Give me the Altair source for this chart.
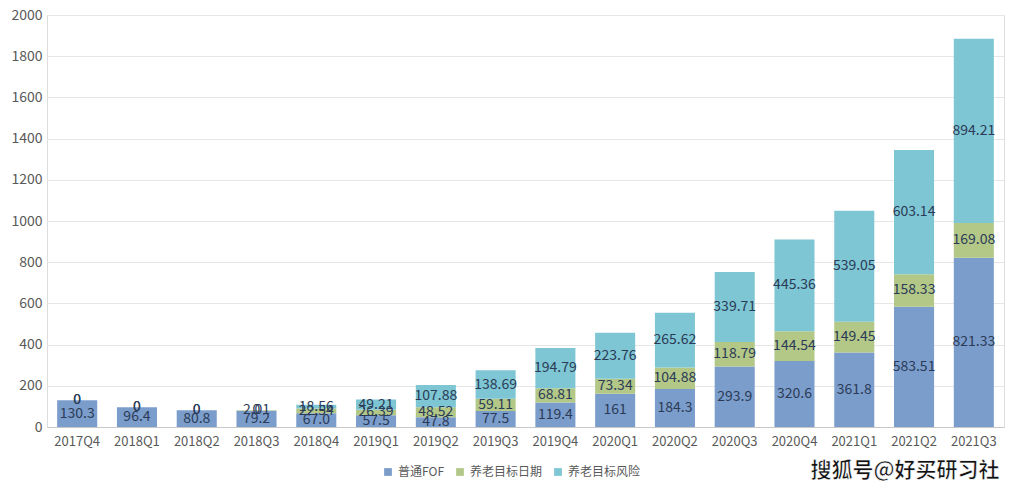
import altair as alt
import pandas as pd

quarters = ["2017Q4", "2018Q1", "2018Q2", "2018Q3", "2018Q4", "2019Q1", "2019Q2", "2019Q3",
            "2019Q4", "2020Q1", "2020Q2", "2020Q3", "2020Q4", "2021Q1", "2021Q2", "2021Q3"]
series_names = ["普通FOF", "养老目标日期", "养老目标风险"]
ordinary_fof = [130.3, 96.4, 80.8, 79.2, 67.0, 57.5, 47.8, 77.5, 119.4, 161, 184.3, 293.9,
                320.6, 361.8, 583.51, 821.33]
target_date = [0, 0, 0, 2.01, 22.54, 26.39, 48.52, 59.11, 68.81, 73.34, 104.88, 118.79,
               144.54, 149.45, 158.33, 169.08]
target_risk = [0, 0, 0, 0, 18.56, 49.21, 107.88, 138.69, 194.79, 223.76, 265.62, 339.71,
               445.36, 539.05, 603.14, 894.21]
colors = ["#7b9dcb", "#b3c887", "#7ec6d3"]

rows = []
for idx, (name, vals) in enumerate(zip(series_names, [ordinary_fof, target_date, target_risk])):
    for q, v in zip(quarters, vals):
        rows.append({"quarter": q, "series": name, "idx": idx, "value": v, "label": str(v)})
df = pd.DataFrame(rows)

base = alt.Chart(df).transform_stack(
    stack="value", groupby=["quarter"], as_=["v0", "v1"], sort=[{"field": "idx", "order": "ascending"}]
).transform_calculate(mid="(datum.v0 + datum.v1) / 2")

x_enc = alt.X("quarter:N", sort=quarters, title=None,
              scale=alt.Scale(paddingInner=0.33, paddingOuter=0.17),
              axis=alt.Axis(labelAngle=0, ticks=False, domainColor="#c8c8c8", labelColor="#595959",
                            labelFontSize=13, labelPadding=8, labelFont="Noto Sans CJK SC"))
y_scale = alt.Scale(domain=[0, 2000], nice=False)

bars = base.mark_bar().encode(
    x=x_enc,
    y=alt.Y("v0:Q", scale=y_scale, title=None,
            axis=alt.Axis(values=list(range(0, 2001, 200)), format="d", domain=False, ticks=False,
                          gridColor="#e6e6e6", labelColor="#595959", labelFontSize=14,
                          labelPadding=5, labelFont="Noto Sans CJK SC")),
    y2="v1:Q",
    color=alt.Color("series:N", scale=alt.Scale(domain=series_names, range=colors),
                    legend=alt.Legend(title=None, orient="none", legendX=335, legendY=451,
                                      direction="horizontal", symbolType="square", symbolSize=60,
                                      symbolStrokeWidth=0, labelFontSize=12, labelColor="#595959",
                                      labelFont="Noto Sans CJK SC", columnPadding=9,
                                      symbolOffset=0, labelOffset=4)),
)

labels = base.mark_text(fontSize=14, color="#2b3b57", font="Noto Sans CJK SC", baseline="middle").encode(
    x=alt.X("quarter:N", sort=quarters),
    y=alt.Y("mid:Q", scale=y_scale),
    text="label:N",
)

mark_note = alt.Chart(pd.DataFrame({"t": ["搜狐号@好买研习社"]})).mark_text(
    fontSize=21, fontWeight="bold", color="#111111", stroke="#ffffff", strokeWidth=0.6,
    font="Noto Sans CJK SC", align="center", baseline="middle"
).encode(text="t:N", x=alt.value(858), y=alt.value(456))

chart = alt.layer(bars, labels, mark_note).properties(
    width=957, height=412,
    autosize=alt.AutoSizeParams(type="none"),
    padding={"left": 47, "top": 15, "right": 14, "bottom": 66},
).configure_view(stroke=None).configure(background="#ffffff")

chart.save("out.html", embed_options={"renderer": "svg", "actions": False})
